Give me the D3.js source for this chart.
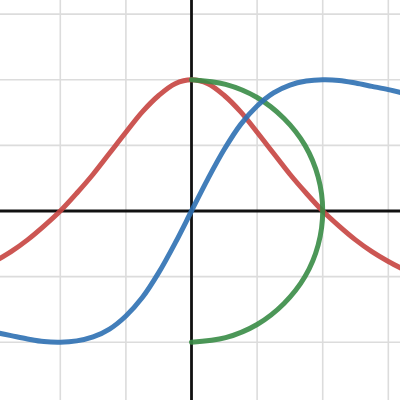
<!DOCTYPE html>
<html>
<head>
<meta charset="utf-8">
<script src="https://cdn.jsdelivr.net/npm/d3@7"></script>
<style>
html,body{margin:0;padding:0;background:#fff;}
svg{display:block;}
</style>
</head>
<body>
<svg id="chart" width="400" height="400"></svg>
<script>
// grid tick positions (units)
const xTicks = [-2, -1, 1, 2, 3];
const yTicks = [-2, -1, 1, 2, 3];

// sampled x positions for red and blue curves
const sampleX = [-3, -2.75, -2.5, -2.25, -2, -1.75, -1.5, -1.25, -1, -0.75, -0.5, -0.25, 0,
                 0.25, 0.5, 0.75, 1, 1.25, 1.5, 1.75, 2, 2.25, 2.5, 2.75, 3, 3.25];
// red curve values (bell shape)
const redY = [-0.77, -0.62, -0.44, -0.23, 0, 0.27, 0.56, 0.88, 1.2, 1.51, 1.76, 1.94, 2,
              1.94, 1.76, 1.51, 1.2, 0.88, 0.56, 0.27, 0, -0.23, -0.44, -0.62, -0.77, -0.9];
// blue curve values (S shape)
const blueY = [-1.85, -1.9, -1.95, -1.99, -2, -1.98, -1.92, -1.8, -1.6, -1.32, -0.94, -0.49, 0,
               0.49, 0.94, 1.32, 1.6, 1.8, 1.92, 1.98, 2, 1.99, 1.95, 1.9, 1.85, 1.79];
// green half-circle points
const greenX = [0, 0.52, 1, 1.41, 1.73, 1.93, 2, 1.93, 1.73, 1.41, 1, 0.52, 0];
const greenY = [2, 1.93, 1.73, 1.41, 1, 0.52, 0, -0.52, -1, -1.41, -1.73, -1.93, -2];

const W = 400, H = 400;
const svg = d3.select("#chart");
const x = d3.scaleLinear().domain([-2.919, 3.178]).range([0, W]);
const y = d3.scaleLinear().domain([-2.881, 3.216]).range([H, 0]);

// grid
svg.append("g").selectAll("line").data(xTicks).join("line")
  .attr("x1", d => x(d)).attr("x2", d => x(d)).attr("y1", 0).attr("y2", H)
  .attr("stroke", "#dcdcdc").attr("stroke-width", 1.6);
svg.append("g").selectAll("line").data(yTicks).join("line")
  .attr("y1", d => y(d)).attr("y2", d => y(d)).attr("x1", 0).attr("x2", W)
  .attr("stroke", "#dcdcdc").attr("stroke-width", 1.6);

// axes
svg.append("line").attr("x1", x(0)).attr("x2", x(0)).attr("y1", 0).attr("y2", H)
  .attr("stroke", "#111").attr("stroke-width", 2.8);
svg.append("line").attr("y1", y(0)).attr("y2", y(0)).attr("x1", 0).attr("x2", W)
  .attr("stroke", "#111").attr("stroke-width", 2.8);

const line = d3.line().x(d => x(d[0])).y(d => y(d[1])).curve(d3.curveCatmullRom.alpha(0.5));

const series = [
  {pts: sampleX.map((v, i) => [v, redY[i]]), color: "#c74440"},
  {pts: greenX.map((v, i) => [v, greenY[i]]), color: "#388c46"},
  {pts: sampleX.map((v, i) => [v, blueY[i]]), color: "#2d70b3"}
];

svg.append("g").selectAll("path").data(series).join("path")
  .attr("d", d => line(d.pts))
  .attr("fill", "none")
  .attr("stroke", d => d.color)
  .attr("stroke-opacity", 0.9)
  .attr("stroke-width", 5)
  .attr("stroke-linecap", "round")
  .attr("stroke-linejoin", "round");
</script>
</body>
</html>
